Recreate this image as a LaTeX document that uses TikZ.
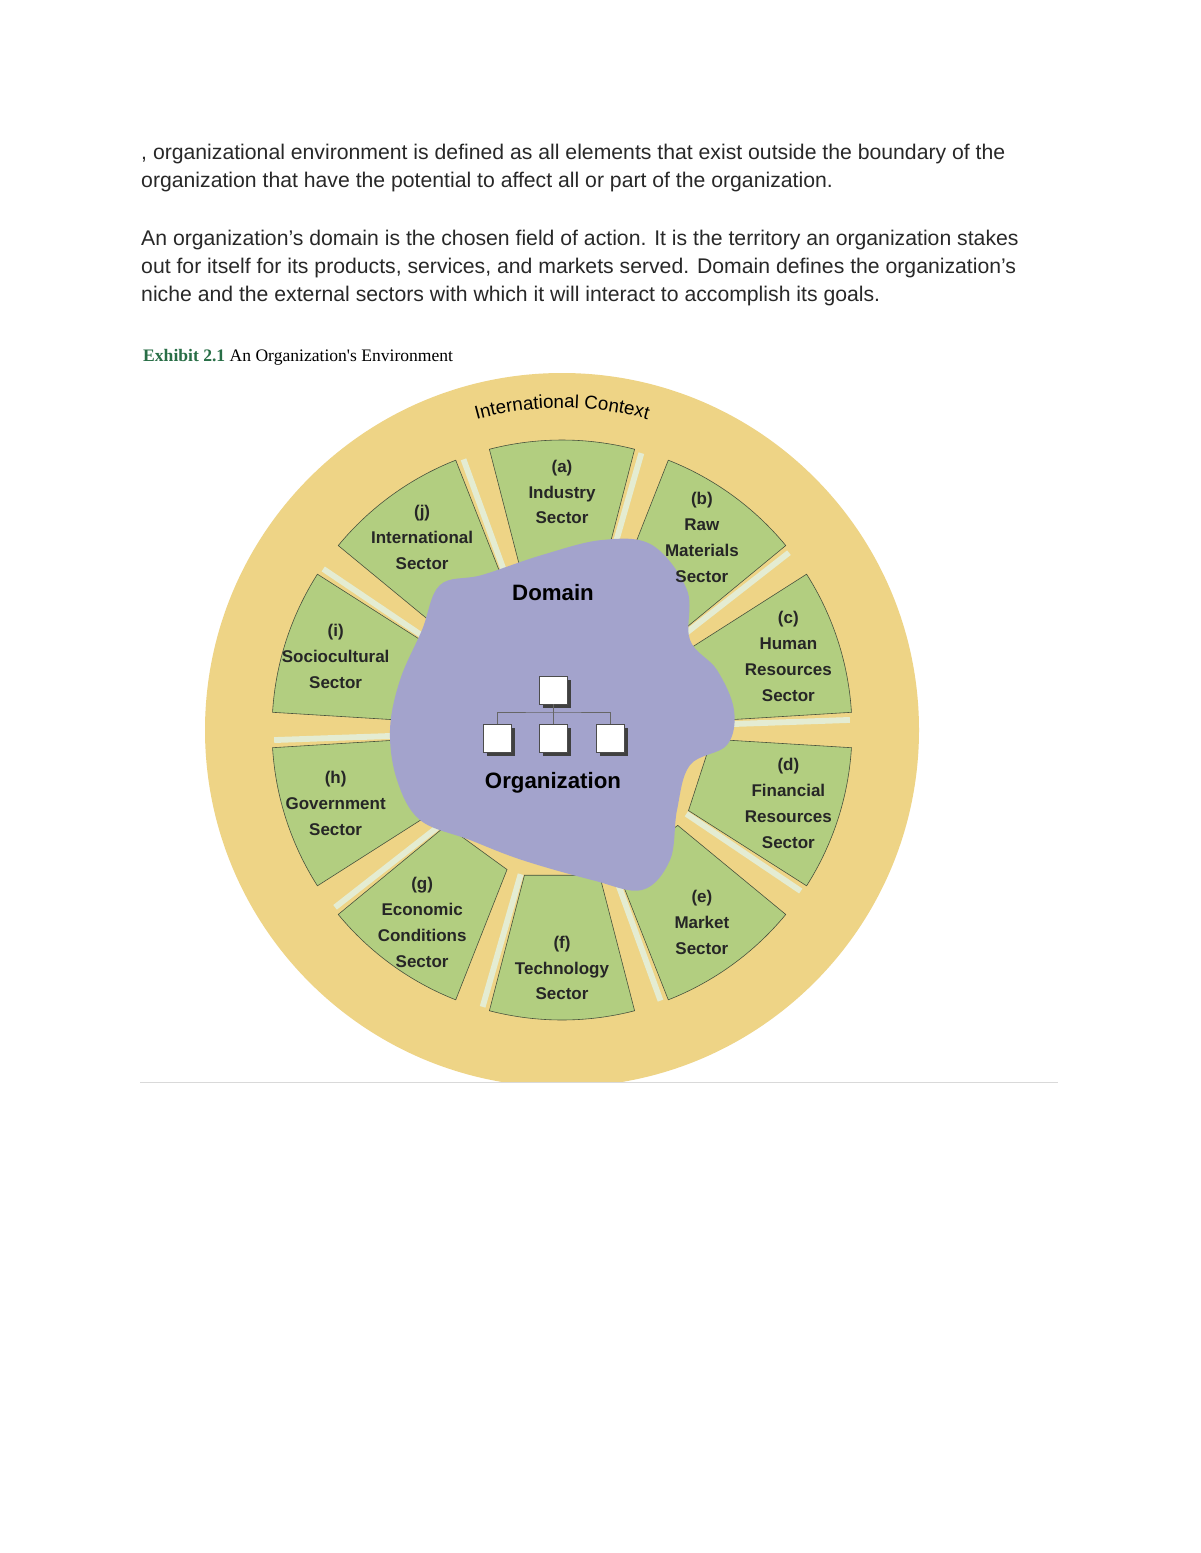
\documentclass[tikz,border=0pt]{standalone}
\usepackage{fontspec}
\setmainfont{Liberation Sans}
\newfontfamily\capfont{Liberation Serif}
\usetikzlibrary{positioning,decorations.text}
\definecolor{ringtan}{RGB}{238,212,134}
\definecolor{secgreen}{RGB}{178,206,128}
\definecolor{secline}{RGB}{70,80,60}
\definecolor{stripe}{RGB}{228,236,210}
\definecolor{domblue}{RGB}{163,163,204}
\definecolor{txtgray}{RGB}{40,40,40}
\definecolor{capgreen}{RGB}{40,110,70}
\tikzset{
  para/.style={anchor=base west,inner sep=0,text=txtgray,font=\fontsize{18.1}{20}\selectfont},
  seclabel/.style={align=center,font=\bfseries\fontsize{14.5}{22}\selectfont,text=black!85},
  orgbox/.style={draw=black!70,fill=white,minimum size=28*0.03cm,inner sep=0}
}
\begin{document}
\begin{tikzpicture}[x=0.03cm,y=-0.03cm]
\useasboundingbox (0,0) rectangle (1200,1553);
\fill[white] (0,0) rectangle (1200,1553);
% text above
\node[para] (p1) at (141,160) {, organizational environment is defined as all elements that exist outside the boundary of the};
\node[para] (p2) at (141,188) {organization that have the potential to affect all or part of the organization.};
\node[para] (p3) at (141,246) {An organization's domain is the chosen field of action. It is the territory an organization stakes};
\node[para] (p4) at (141,274) {out for itself for its products, services, and markets served. Domain defines the organization's};
\node[para] (p5) at (141,302) {niche and the external sectors with which it will interact to accomplish its goals.};
\node[anchor=base west,inner sep=0,font=\capfont\fontsize{15}{17}\selectfont] (cap) at (143,361)
  {\textcolor{capgreen}{\bfseries Exhibit 2.1} An Organization's Environment};
% outer ring
\begin{scope}
  \clip (100,300) rectangle (1100,1082);
  \fill[ringtan] (562,730) circle[radius=357];
\end{scope}
\draw[black!15] (140,1082) -- (1058,1082);
% sectors
\begin{scope}[shift={(562,730)},yscale=-1]
  \foreach \c in {90,54,18,-18,-54,-90,-126,-162,162,126}
  {
    \draw[line width=5pt,stripe] (\c-16:150) -- (\c-16:288);
    \draw[fill=secgreen,draw=secline,line width=0.5pt]
      (\c-14.5:150) -- (\c-14.5:290) arc[start angle=\c-14.5,end angle=\c+14.5,radius=290]
      -- (\c+14.5:150) -- cycle;
  }
  % domain
  \fill[domblue] plot[smooth cycle,tension=0.6] coordinates {
    (-122,145) (-80,155) (-20,175) (40,190) (90,185) (125,140) (128,90)
    (155,60) (172,20) (165,-15) (128,-35) (115,-80) (108,-130) (80,-160)
    (30,-150) (-40,-130) (-92,-110) (-142,-90) (-165,-50) (-172,0)
    (-162,50) (-140,100)};
  \path[decorate,decoration={text along path,text align=center,
      text={|\fontsize{16}{18}\selectfont|International Context}}]
      (110:322) arc[start angle=110,end angle=70,radius=322];
\end{scope}
% sector labels
\foreach \c/\lab [count=\i] in {90/{(a)\\Industry\\Sector},54/{(b)\\Raw\\Materials\\Sector},
    18/{(c)\\Human\\Resources\\Sector},-18/{(d)\\Financial\\Resources\\Sector},
    -54/{(e)\\Market\\Sector},-90/{(f)\\Technology\\Sector},
    -126/{(g)\\Economic\\Conditions\\Sector},-162/{(h)\\Government\\Sector},
    162/{(i)\\Sociocultural\\Sector},126/{(j)\\International\\Sector}}
  \node[seclabel] (sec\i) at ({562+238*cos(\c)},{730-238*sin(\c)}) {\lab};
% org chart
\node[font=\bfseries\fontsize{19}{22}\selectfont] (dom) at (553,593) {Domain};
\node[font=\bfseries\fontsize{19}{22}\selectfont] (org) at (553,783) {Organization};
\foreach \x/\y in {553/690,497/738,553/738,610/738}
  \fill[black!75] (\x-10,\y-10) rectangle (\x+18,\y+18);
\node[orgbox] (top) at (553,690) {};
\node[orgbox] (left) at (497,738) {};
\node[orgbox] (mid) at (553,738) {};
\node[orgbox] (right) at (610,738) {};
\coordinate (bar) at (553,712);
\draw[black!60] (top.south) -- (mid.north);
\draw[black!60] (left.north) |- (bar) -| (right.north);
\end{tikzpicture}
\end{document}
